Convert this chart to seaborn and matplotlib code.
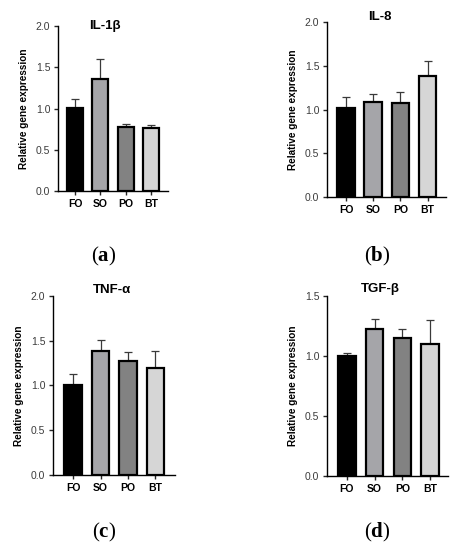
import numpy as np
import pandas as pd
import matplotlib
matplotlib.use("Agg")
import matplotlib.pyplot as plt
import seaborn as sns

# Datos

groups = ["FO", "SO", "PO", "BT"]
bar_colors = ["#000000", "#a4a4aa", "#828282", "#d6d6d6"]

il1b_mean = [1.01, 1.36, 0.78, 0.76]
il1b_sd = [0.10, 0.24, 0.03, 0.04]
il8_mean = [1.02, 1.09, 1.07, 1.38]
il8_sd = [0.12, 0.09, 0.13, 0.17]
tnfa_mean = [1.01, 1.39, 1.27, 1.20]
tnfa_sd = [0.12, 0.12, 0.10, 0.18]
tgfb_mean = [1.00, 1.23, 1.15, 1.10]
tgfb_sd = [0.03, 0.08, 0.08, 0.20]

titles = ["IL-1β", "IL-8", "TNF-α", "TGF-β"]
panel_tags = ["a", "b", "c", "d"]
ymax = [2.0, 2.0, 2.0, 1.5]

sns.set_theme(style="ticks")
plt.rcParams['font.family'] = ['Liberation Sans', 'DejaVu Sans']
plt.rcParams['text.color'] = 'black'
plt.rcParams['axes.labelcolor'] = 'black'
plt.rcParams['mathtext.fontset'] = 'custom'
plt.rcParams['mathtext.rm'] = 'Liberation Serif'
plt.rcParams['mathtext.bf'] = 'Liberation Serif:bold'

fig = plt.figure(figsize=(4.56, 5.50), dpi=100)

# posiciones de los ejes [left, bottom, width, height] y ajustes por panel
axes_pos = [[0.1272, 0.6527, 0.2412, 0.300],
            [0.7171, 0.6418, 0.2610, 0.318],
            [0.1162, 0.1364, 0.2675, 0.3255],
            [0.7171, 0.1345, 0.2654, 0.327]]
xlims = [(-0.67, 3.67), (-0.70, 3.68), (-0.73, 3.71), (-0.70, 3.63)]
title_xy = [(0.43, 1.00), (0.445, 1.03), (0.48, 1.034), (0.44, 1.04)]
tag_xy = [(0.228, 0.5345), (0.827, 0.5345), (0.228, 0.0327), (0.827, 0.0327)]

means = [il1b_mean, il8_mean, tnfa_mean, tgfb_mean]
sds = [il1b_sd, il8_sd, tnfa_sd, tgfb_sd]

for i in range(4):
    ax = fig.add_axes(axes_pos[i])
    df = pd.DataFrame({"group": groups, "value": means[i]})
    sns.barplot(data=df, x="group", y="value", hue="group", palette=bar_colors,
                order=groups, width=0.64, edgecolor="black", linewidth=1.6,
                legend=False, ax=ax, zorder=2)
    # barras de error solo hacia arriba
    ax.errorbar(np.arange(4), means[i], yerr=[np.zeros(4), sds[i]], fmt="none",
                ecolor="#3a3a3a", elinewidth=0.9, capsize=3.2, capthick=0.9, zorder=1)
    ax.set_xlim(xlims[i])
    ax.set_ylim(0, ymax[i])
    ax.set_yticks(np.arange(0, ymax[i] + 0.01, 0.5))
    ax.yaxis.set_major_formatter(matplotlib.ticker.FormatStrFormatter("%.1f"))
    ax.set_xlabel("")
    ax.set_ylabel("Relative gene expression", fontsize=7.2, fontweight="bold", labelpad=5)
    sns.despine(ax=ax)
    for s in ["left", "bottom"]:
        ax.spines[s].set_linewidth(1.0)
        ax.spines[s].set_color("black")
    ax.tick_params(axis="y", labelsize=7.5, labelcolor="#3c3c3c", length=3, width=1.0, pad=2.5)
    ax.tick_params(axis="x", length=3, width=1.0, pad=3)
    ax.set_xticks(np.arange(4))
    ax.set_xticklabels(groups, fontsize=7.5, fontweight="bold", color="black")
    ax.text(title_xy[i][0], title_xy[i][1], titles[i], transform=ax.transAxes,
            ha="center", va="center", fontsize=9.5, fontweight="bold")
    fig.text(tag_xy[i][0], tag_xy[i][1],
             r"$\mathrm{(}\mathbf{" + panel_tags[i] + r"}\mathrm{)}$",
             ha="center", va="center", fontsize=15)

fig.savefig("out.png", dpi=100)
